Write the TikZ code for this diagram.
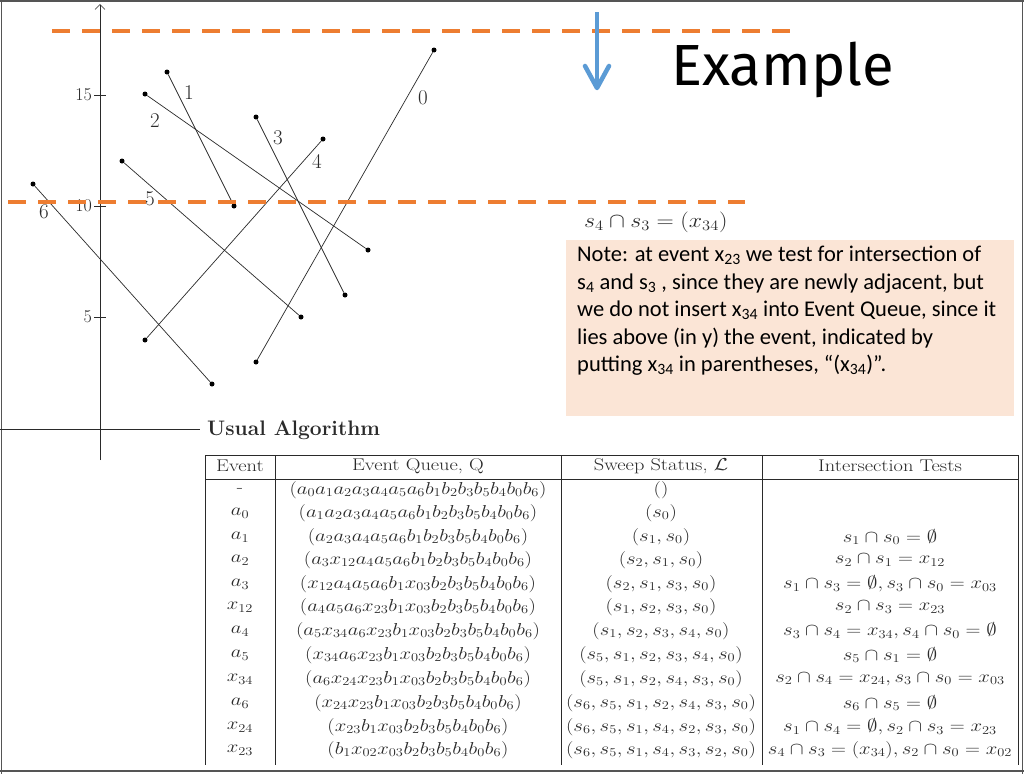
\documentclass[tikz,border=0pt]{standalone}
\usepackage{fontspec}
\newfontfamily\calib{Carlito}
\newfontfamily\comic{Fira Sans}
\usetikzlibrary{arrows.meta}
\definecolor{dashor}{HTML}{ED7D31}
\definecolor{arrblue}{HTML}{5B9BD5}
\definecolor{notebg}{HTML}{FBE5D6}
\definecolor{ink}{HTML}{2A2A2A}
\tikzset{seg/.style={draw=ink,line width=0.7pt},
  pt/.style={circle,fill=black,inner sep=0pt,minimum size=5pt},
  lab/.style={text=ink,font=\fontsize{21}{21}\selectfont,inner sep=0pt},
  sweep/.style={draw=dashor,line width=3.5pt,dash pattern=on 18pt off 12pt},
  cell/.style={text=ink,font=\fontsize{17}{17}\selectfont,inner sep=0pt,anchor=center,xscale=1.2},
  grid/.style={draw=ink,line width=0.7pt}}
\newcommand\trow[6]{%
  \node[cell] (e#1) at (240,#2) {$#3$};
  \node[cell] (q#1) at (418,#2) {$#4$};
  \node[cell] (s#1) at (661,#2) {$#5$};
  \node[cell] (t#1) at (890,#2) {$#6$};}
\begin{document}
\begin{tikzpicture}[x=1pt,y=-1pt]
\useasboundingbox (0,0) rectangle (1024,774);
\fill[white] (0,0) rectangle (1024,774);
% frame
\draw[draw=ink!80,line width=2pt] (0,1) -- (1024,1);
\draw[draw=ink!80,line width=1.5pt] (0,771) -- (1024,771);
\draw[draw=ink!80,line width=1pt] (1,0) -- (1,774);
\draw[draw=ink!80,line width=1pt] (1022,0) -- (1022,774);
% axes
\coordinate (ya) at (100,460); \coordinate (yb) at (100,4);
\draw[draw=ink,line width=0.7pt,-{Straight Barb[length=5pt]}] (ya) -- (yb);
\coordinate (xa) at (0,429); \coordinate (xb) at (200,429);
\draw[grid] (xa) -- (xb);
\foreach \v/\yy in {15/95,10/206,5/317}{
  \coordinate (tk\v) at (94,\yy); \coordinate (tr\v) at (106,\yy);
  \draw[grid] (tk\v) -- (tr\v);
  \node[lab,anchor=east,font=\fontsize{18}{18}\selectfont] (tl\v) at (92,\yy) {\v};}
% segments
\foreach \n/\ax/\ay/\bx/\by in {0/434/50/256/362,1/167/72/234/206,2/145/94/368/250,3/256/117/345/295,4/323/139/145/340,5/122/161/301/317,6/33/184/212/384}{
  \node[pt] (p\n a) at (\ax,\ay) {}; \node[pt] (p\n b) at (\bx,\by) {};
  \draw[seg] (p\n a) -- (p\n b);}
\node[lab] (l0) at (423,98) {0};
\node[lab] (l1) at (189,93) {1};
\node[lab] (l2) at (155,121) {2};
\node[lab] (l3) at (278,138) {3};
\node[lab] (l4) at (317,161) {4};
\node[lab] (l5) at (150,199) {5};
\node[lab] (l6) at (44,212) {6};
% sweep lines
\coordinate (d1a) at (52,31); \coordinate (d1b) at (790,31);
\draw[sweep] (d1a) -- (d1b);
\coordinate (d2a) at (8,202); \coordinate (d2b) at (745,202);
\draw[sweep] (d2a) -- (d2b);
% arrow
\coordinate (ba) at (597,12); \coordinate (bb) at (597,88);
\coordinate (bl) at (585,66); \coordinate (br) at (609,66);
\draw[draw=arrblue,line width=4.5pt] (ba) -- (bb);
\draw[draw=arrblue,line width=4.5pt,line cap=round,line join=round] (bl) -- (bb) -- (br);
\node[font=\comic\fontsize{58}{58}\selectfont,anchor=west] (ex) at (668,70) {Example};
% formula
\node[text=ink,font=\fontsize{22}{22}\selectfont,anchor=west,xscale=1.15,inner sep=0pt] (f) at (584,222) {$s_4\cap s_3=(x_{34})$};
% note
\node[fill=notebg,anchor=north west,minimum width=448pt,minimum height=176pt,inner sep=0pt] (nb) at (566,240) {};
\node[anchor=north west,align=left,inner sep=0pt,font=\calib\fontsize{22.5}{27.5}\selectfont] (nt) at (577,246) {%
Note: at event x\textsubscript{23} we test for intersection of\\
s\textsubscript{4} and s\textsubscript{3} , since they are newly adjacent, but\\
we do not insert x\textsubscript{34} into Event Queue, since it\\
lies above (in y) the event, indicated by\\
putting x\textsubscript{34} in parentheses, “(x\textsubscript{34})”.};
% table
\node[text=ink,font=\bfseries\fontsize{21}{21}\selectfont,anchor=west,inner sep=0pt] (ua) at (207,430) {Usual Algorithm};
\coordinate (g1) at (205,455); \coordinate (g2) at (1018,455);
\coordinate (g3) at (205,479); \coordinate (g4) at (1018,479);
\draw[grid] (g1) -- (g2); \draw[grid] (g3) -- (g4);
\foreach \xx in {205,275,561,762,1018}{
  \coordinate (va\xx) at (\xx,455); \coordinate (vb\xx) at (\xx,765);
  \draw[grid] (va\xx) -- (vb\xx);}
\node[cell] (h1) at (240,466) {Event};
\node[cell] (h2) at (418,466) {Event Queue, Q};
\node[cell] (h3) at (661,466) {Sweep Status, $\mathcal{L}$};
\node[cell] (h4) at (890,466) {Intersection Tests};
\trow{0}{490}{\mbox{-}}{(a_0a_1a_2a_3a_4a_5a_6b_1b_2b_3b_5b_4b_0b_6)}{()}{}
\trow{1}{513}{a_0}{(a_1a_2a_3a_4a_5a_6b_1b_2b_3b_5b_4b_0b_6)}{(s_0)}{}
\trow{2}{537}{a_1}{(a_2a_3a_4a_5a_6b_1b_2b_3b_5b_4b_0b_6)}{(s_1,s_0)}{s_1\cap s_0=\emptyset}
\trow{3}{560}{a_2}{(a_3x_{12}a_4a_5a_6b_1b_2b_3b_5b_4b_0b_6)}{(s_2,s_1,s_0)}{s_2\cap s_1=x_{12}}
\trow{4}{584}{a_3}{(x_{12}a_4a_5a_6b_1x_{03}b_2b_3b_5b_4b_0b_6)}{(s_2,s_1,s_3,s_0)}{s_1\cap s_3=\emptyset,s_3\cap s_0=x_{03}}
\trow{5}{607}{x_{12}}{(a_4a_5a_6x_{23}b_1x_{03}b_2b_3b_5b_4b_0b_6)}{(s_1,s_2,s_3,s_0)}{s_2\cap s_3=x_{23}}
\trow{6}{631}{a_4}{(a_5x_{34}a_6x_{23}b_1x_{03}b_2b_3b_5b_4b_0b_6)}{(s_1,s_2,s_3,s_4,s_0)}{s_3\cap s_4=x_{34},s_4\cap s_0=\emptyset}
\trow{7}{655}{a_5}{(x_{34}a_6x_{23}b_1x_{03}b_2b_3b_5b_4b_0b_6)}{(s_5,s_1,s_2,s_3,s_4,s_0)}{s_5\cap s_1=\emptyset}
\trow{8}{679}{x_{34}}{(a_6x_{24}x_{23}b_1x_{03}b_2b_3b_5b_4b_0b_6)}{(s_5,s_1,s_2,s_4,s_3,s_0)}{s_2\cap s_4=x_{24},s_3\cap s_0=x_{03}}
\trow{9}{703}{a_6}{(x_{24}x_{23}b_1x_{03}b_2b_3b_5b_4b_0b_6)}{(s_6,s_5,s_1,s_2,s_4,s_3,s_0)}{s_6\cap s_5=\emptyset}
\trow{10}{727}{x_{24}}{(x_{23}b_1x_{03}b_2b_3b_5b_4b_0b_6)}{(s_6,s_5,s_1,s_4,s_2,s_3,s_0)}{s_1\cap s_4=\emptyset,s_2\cap s_3=x_{23}}
\trow{11}{750}{x_{23}}{(b_1x_{02}x_{03}b_2b_3b_5b_4b_0b_6)}{(s_6,s_5,s_1,s_4,s_3,s_2,s_0)}{s_4\cap s_3=(x_{34}),s_2\cap s_0=x_{02}}
\end{tikzpicture}
\end{document}
